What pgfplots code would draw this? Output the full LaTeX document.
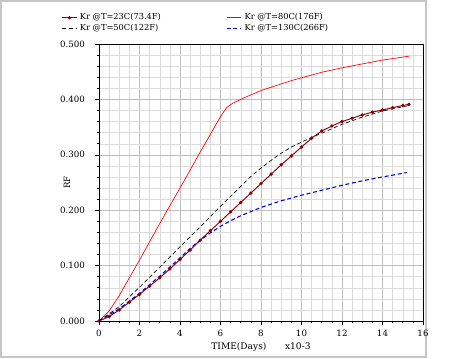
\documentclass[border=0pt]{standalone}
\usepackage{fontspec}
\setmainfont{DejaVu Serif}
\usepackage{pgfplots}
\pgfplotsset{compat=1.18}
\begin{document}
\begin{tikzpicture}[x=0.75pt,y=0.75pt]
\path[use as bounding box] (0,0) rectangle (474,358);
\draw[gray!45,line width=1.5] (0.75,358) -- (0.75,1.5) -- (426,1.5) -- (426,357.25) -- (0.75,357.25);
\begin{axis}[
  at={(99*0.75pt,37*0.75pt)}, anchor=south west,
  scale only axis, width=324*0.75pt, height=277*0.75pt,
  xmin=0, xmax=16, ymin=0, ymax=0.5,
  xtick={0,2,...,16}, ytick={0,0.1,...,0.5},
  minor x tick num=3, minor y tick num=4,
  grid=both,
  major grid style={gray!50, line width=0.4pt},
  minor grid style={gray!28, line width=0.3pt},
  tick align=outside, tick pos=left,
  major tick length=3pt, minor tick length=1.5pt,
  axis line style={black, line width=0.6pt},
  tick style={black, line width=0.4pt},
  /pgf/number format/assume math mode=true,
  yticklabel style={xshift=-4pt, /pgf/number format/.cd, fixed, fixed zerofill, precision=3},
  scaled y ticks=false,
  ticklabel style={font=\fontsize{6.5}{7}\selectfont},
  xlabel={TIME(Days)\hspace{14pt}x10-3},
  xlabel style={font=\fontsize{6.8}{8}\selectfont, at={(axis description cs:0.5,-0.06)}, anchor=north},
  ylabel={RF},
  ylabel style={font=\fontsize{6.5}{8}\selectfont, at={(axis description cs:-0.099,0.5)}, anchor=center},
  legend columns=2,
  legend style={draw=none, fill=none, font=\fontsize{6.2}{7}\selectfont,
    at={(axis description cs:-0.12,1.125)}, anchor=north west,
    /tikz/every even column/.append style={column sep=47pt},
    row sep=-2pt, inner sep=1pt},
  legend cell align=left,
  legend image code/.code={\draw[mark repeat=2,mark phase=2,#1] plot coordinates {(0pt,0pt) (5.5pt,0pt) (11pt,0pt)};},
]
\addplot[color=red!55!black, line width=0.7pt, mark=*, mark size=0.9pt, mark options={fill=red!55!black}] coordinates {
(0,0) (0.5,0.008) (1,0.020) (1.5,0.034) (2,0.048) (2.5,0.063) (3,0.078) (3.5,0.094) (4,0.111) (4.5,0.128) (5,0.146) (5.5,0.163) (6,0.180) (6.5,0.197) (7,0.214) (7.5,0.231) (8,0.248) (8.5,0.265) (9,0.282) (9.5,0.298) (10,0.314) (10.5,0.330) (11,0.343) (11.5,0.352) (12,0.360) (12.5,0.366) (13,0.372) (13.5,0.377) (14,0.381) (14.5,0.385) (15,0.389) (15.3,0.391)
};
\addlegendentry{Kr @T=23C(73.4F)}
\addplot[color=red, line width=0.5pt] coordinates {
(0,0) (0.5,0.018) (1,0.046) (2,0.110) (3,0.176) (4,0.240) (5,0.305) (6,0.369) (6.3,0.385) (6.6,0.393) (7,0.400) (7.3,0.405) (8,0.416) (9,0.428) (9.6,0.435) (10,0.439) (11,0.449) (12,0.457) (13,0.464) (14,0.471) (15.3,0.478)
};
\addlegendentry{Kr @T=80C(176F)}
\addplot[color=black, line width=0.5pt, densely dashed] coordinates {
(0,0) (1,0.026) (2,0.061) (3,0.097) (4,0.134) (5,0.170) (6,0.207) (7,0.243) (7.5,0.261) (8,0.276) (8.5,0.290) (9,0.303) (9.5,0.314) (10,0.323) (10.6,0.333) (11,0.339) (12,0.355) (13,0.368) (14,0.379) (15.3,0.389)
};
\addlegendentry{Kr @T=50C(122F)}
\addplot[color=blue!85!black, line width=0.8pt, densely dashed] coordinates {
(0,0) (1,0.022) (2,0.050) (3,0.081) (4,0.114) (4.5,0.131) (5,0.146) (5.5,0.159) (6,0.171) (6.5,0.181) (7,0.190) (8,0.205) (9,0.217) (10,0.227) (11,0.236) (12,0.245) (13,0.253) (14,0.260) (15.2,0.268)
};
\addlegendentry{Kr @T=130C(266F)}
\end{axis}
\end{tikzpicture}
\end{document}
